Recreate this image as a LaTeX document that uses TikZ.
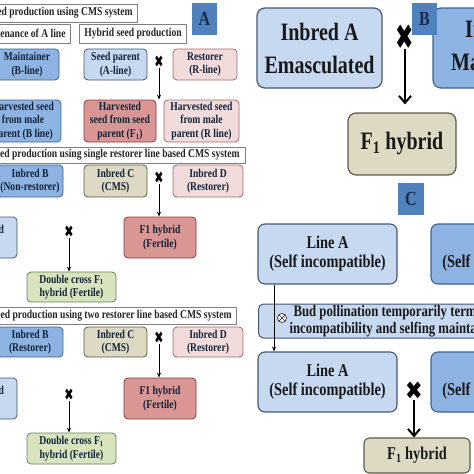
\documentclass[tikz,border=0pt]{standalone}
\usepackage{fontspec}
\setmainfont{Liberation Serif}[FakeStretch=0.8]
\newfontfamily\dejavu{DejaVu Sans}
\usetikzlibrary{arrows.meta,calc}
\definecolor{ltbF}{HTML}{C6D9F1}
\definecolor{ltbD}{HTML}{44586F}
\definecolor{medF}{HTML}{8DB3E2}
\definecolor{medD}{HTML}{3E6395}
\definecolor{pinkF}{HTML}{F2DCDB}
\definecolor{pinkD}{HTML}{9A6E6D}
\definecolor{redF}{HTML}{D99694}
\definecolor{redD}{HTML}{8C3B3A}
\definecolor{tanF}{HTML}{DDD9C3}
\definecolor{tanD}{HTML}{5F5B4B}
\definecolor{grnF}{HTML}{D7E4BD}
\definecolor{grnD}{HTML}{6F7F5F}
\definecolor{lblF}{HTML}{4F81BD}
\definecolor{lblT}{HTML}{1B2A48}
\definecolor{txtA}{HTML}{13233A}
\definecolor{hdrD}{HTML}{808080}
\begin{document}
\begin{tikzpicture}[x=1pt,y=-1pt,
  abox/.style={draw, rounded corners=4pt, align=center, line width=0.8pt,
    font=\fontsize{12}{13.5}\selectfont\bfseries, text=txtA, inner sep=0pt},
  bbox/.style={draw, rounded corners=8pt, align=center, line width=1.2pt,
    font=\fontsize{25}{33}\selectfont\bfseries, text=black!90, inner sep=0pt},
  cbox/.style={draw, rounded corners=7pt, align=center, line width=1.1pt,
    font=\fontsize{18}{19}\selectfont\bfseries, text=black!90, inner sep=0pt},
  hdr/.style={draw=hdrD, fill=white, line width=0.8pt, inner xsep=5pt, inner ysep=0pt,
    font=\fontsize{12}{13.5}\selectfont\bfseries, text=black!85},
  ltb/.style={fill=ltbF, draw=ltbD},
  medb/.style={fill=medF, draw=medD},
  pinkb/.style={fill=pinkF, draw=pinkD},
  redb/.style={fill=redF, draw=redD},
  tanb/.style={fill=tanF, draw=tanD},
  grnb/.style={fill=grnF, draw=grnD},
  lbl/.style={fill=lblF, text=lblT, inner sep=0pt, font=\fontsize{20}{20}\selectfont\bfseries},
  crossmk/.style={inner sep=0pt, text=black},
  thinarr/.style={-{Stealth[length=5pt,width=4pt]}, line width=0.8pt, black},
  thickarr/.style={-{Straight Barb[length=7pt,width=12pt,line width=2pt]}, line width=2.2pt, black}
]
\useasboundingbox (0,0) rectangle (474,474);
\clip (0,0) rectangle (474,474);
\fill[white] (0,0) rectangle (474,474);

% ---------------- Panel A ----------------
\node[hdr, anchor=east, minimum height=18pt] (h1) at (138,13) {Hybrid seed production using CMS system};
\node[lbl, minimum width=25pt, minimum height=32pt] (labA) at (204.5,19) {A};
\node[hdr, anchor=east, minimum height=19pt] (h1a) at (71,33.5) {Maintenance of A line};
\node[hdr, minimum width=104pt, minimum height=19pt] (h1b) at (133,33.5) {Hybrid seed production};

\node[abox, medb, minimum width=64pt, minimum height=31pt] (maint) at (27,64.5) {Maintainer\\(B-line)};
\node[abox, ltb, minimum width=63pt, minimum height=31pt] (seedp) at (115.5,64.5) {Seed parent\\(A-line)};
\node[abox, pinkb, minimum width=64pt, minimum height=31pt] (rest) at (205,64.5) {Restorer\\(R-line)};
\node[crossmk, font=\dejavu\fontsize{11}{11}\selectfont] (x1) at (159,62) {\scalebox{1}[1.5]{✖}};

\node[abox, medb, minimum width=76pt, minimum height=42pt] (harvB) at (23,121) {Harvested seed\\from male\\parent (B line)};
\node[abox, redb, minimum width=72pt, minimum height=42pt] (harvF) at (120,121) {Harvested\\seed from seed\\parent (F\textsubscript{1})};
\node[abox, pinkb, minimum width=75pt, minimum height=42pt] (harvR) at (201.5,121) {Harvested seed\\from male\\parent (R line)};
\draw[thinarr] (x1.south) -- (x1.south |- harvF.north);

\node[hdr, anchor=east, minimum height=16pt, inner xsep=6pt] (h2) at (246,155) {Hybrid seed production using single restorer line based CMS system};

\node[abox, medb, minimum width=66pt, minimum height=32pt] (inB1) at (30,181) {Inbred B\\(Non-restorer)};
\node[abox, tanb, minimum width=63pt, minimum height=32pt] (inC1) at (115.5,181) {Inbred C\\(CMS)};
\node[abox, pinkb, minimum width=70pt, minimum height=32pt] (inD1) at (208,181) {Inbred D\\(Restorer)};
\node[crossmk, font=\dejavu\fontsize{11}{11}\selectfont] (x2) at (159,178) {\scalebox{1}[1.5]{✖}};

\node[abox, ltb, minimum width=67pt, minimum height=41pt] (sA1) at (-16.5,237.5) {F1 hybrid\\(Sterile)};
\node[abox, redb, minimum width=72pt, minimum height=41pt] (f1a) at (160,237.5) {F1 hybrid\\(Fertile)};
\draw[thinarr] (x2.south) -- (x2.south |- f1a.north);
\node[crossmk, font=\dejavu\fontsize{11}{11}\selectfont] (x3) at (69,232) {\scalebox{1}[1.5]{✖}};
\node[abox, grnb, minimum width=89pt, minimum height=30pt] (dbl1) at (71.5,287) {Double cross F\textsubscript{1}\\hybrid (Fertile)};
\draw[thinarr] (x3.south) -- (x3.south |- dbl1.north);

\node[hdr, anchor=east, minimum height=17pt] (h3) at (237,315.5) {Hybrid seed production using two restorer line based CMS system};

\node[abox, medb, minimum width=66pt, minimum height=30pt] (inB2) at (30,342) {Inbred B\\(Restorer)};
\node[abox, tanb, minimum width=63pt, minimum height=30pt] (inC2) at (115.5,342) {Inbred C\\(CMS)};
\node[abox, pinkb, minimum width=70pt, minimum height=30pt] (inD2) at (208,342) {Inbred D\\(Restorer)};
\node[crossmk, font=\dejavu\fontsize{11}{11}\selectfont] (x4) at (159,338) {\scalebox{1}[1.5]{✖}};

\node[abox, ltb, minimum width=67pt, minimum height=41pt] (sA2) at (-16.5,398.5) {F1 hybrid\\(Fertile)};
\node[abox, redb, minimum width=72pt, minimum height=41pt] (f1b) at (160,398.5) {F1 hybrid\\(Fertile)};
\draw[thinarr] (x4.south) -- (x4.south |- f1b.north);
\node[crossmk, font=\dejavu\fontsize{11}{11}\selectfont] (x5) at (69,395) {\scalebox{1}[1.5]{✖}};
\node[abox, grnb, minimum width=89pt, minimum height=31pt] (dbl2) at (71.5,448.5) {Double cross F\textsubscript{1}\\hybrid (Fertile)};
\draw[thinarr] (x5.south) -- (x5.south |- dbl2.north);

% ---------------- Panel B ----------------
\node[bbox, ltb, minimum width=125pt, minimum height=80pt] (inA) at (319.5,48) {Inbred A\\Emasculated};
\node[bbox, medb, minimum width=141pt, minimum height=80pt] (inBm) at (503.5,48) {Inbred B\\Male parent};
\node[lbl, minimum width=25pt, minimum height=32pt] (labB) at (424.5,19) {B};
\node[crossmk, font=\dejavu\fontsize{22}{22}\selectfont] (xB) at (405,37) {\scalebox{1}[1.6]{✖}};
\node[bbox, tanb, minimum width=108pt, minimum height=62pt] (f1B) at (402,144) {F\textsubscript{1} hybrid};
\draw[thickarr, shorten >=8pt] (xB.south) -- (xB.south |- f1B.north);

% ---------------- Panel C ----------------
\node[lbl, minimum width=26pt, minimum height=32pt] (labC) at (411,199) {C};
\node[cbox, ltb, minimum width=139pt, minimum height=60pt] (lA1) at (327.5,254) {Line A\\(Self incompatible)};
\node[cbox, medb, minimum width=139pt, minimum height=60pt] (lB1) at (500.5,254) {Line B\\(Self incompatible)};
\node[draw=ltbD, fill=ltbF, rounded corners=5pt, line width=1pt, anchor=west, align=left,
  minimum height=34pt, inner xsep=31pt, inner ysep=0pt,
  font=\fontsize{16}{17}\selectfont\bfseries, text=black!90] (band) at (258,321)
  {\hspace*{4pt}Bud pollination temporarily terminates self-\\incompatibility and selfing maintains the line};
\node[cbox, ltb, minimum width=139pt, minimum height=60pt] (lA2) at (327.5,382) {Line A\\(Self incompatible)};
\node[cbox, medb, minimum width=139pt, minimum height=60pt] (lB2) at (500.5,382) {Line B\\(Self incompatible)};
\draw[thinarr] ([xshift=-53.5pt]lA1.south) -- ([xshift=-53.5pt]lA2.north);
\node[circle, draw=black!80, fill=white, minimum size=9pt, inner sep=0pt, line width=0.7pt,
  path picture={\draw[line width=0.7pt, black!80] (path picture bounding box.north west) -- (path picture bounding box.south east)
     (path picture bounding box.north east) -- (path picture bounding box.south west);}] (otimes) at (282,318) {};
\node[crossmk, font=\dejavu\fontsize{21}{21}\selectfont] (xC) at (414,391) {\scalebox{1}[1.2]{✖}};
\node[cbox, tanb, minimum width=106pt, minimum height=35pt, rounded corners=5pt] (f1C) at (417,455.5) {F\textsubscript{1} hybrid};
\draw[thickarr] (xC.south) -- (xC.south |- f1C.north);
\end{tikzpicture}
\end{document}
